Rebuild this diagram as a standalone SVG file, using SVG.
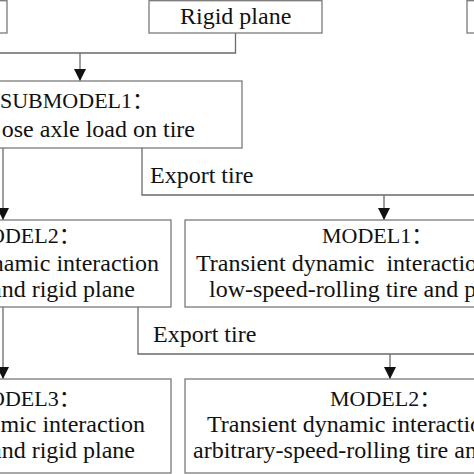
<svg xmlns="http://www.w3.org/2000/svg" width="474" height="474" viewBox="0 0 474 474">
<style>
.box{fill:#fff;stroke:#7a7a7a;stroke-width:1.3}
.ln{fill:none;stroke:#6a6a6a;stroke-width:1.3}
text{font-family:'Liberation Serif','Noto Sans CJK SC',serif;fill:#111;font-size:24px;white-space:pre}
.h{font-size:22px}
.e{text-anchor:end}
</style>
<defs>
<marker id="arr" markerUnits="userSpaceOnUse" markerWidth="12" markerHeight="12" viewBox="0 0 12 12" refX="12" refY="6" orient="auto">
<path d="M0,0 L12,6 L0,12 z" fill="#111"/>
</marker>
</defs>
<rect width="474" height="474" fill="#fff"/>
<g id="connectors">
<path class="ln" d="M235.5,33 V53 H-5"/>
<path class="ln" d="M80,53 V81" marker-end="url(#arr)"/>
<path class="ln" d="M3,148 V220" marker-end="url(#arr)"/>
<path class="ln" d="M142,148 V195 H480"/>
<path class="ln" d="M384,195 V220" marker-end="url(#arr)"/>
<path class="ln" d="M3,307 V379" marker-end="url(#arr)"/>
<path class="ln" d="M138,307 V354 H480"/>
<path class="ln" d="M390,354 V379" marker-end="url(#arr)"/>
</g>
<g id="node-topleft"><rect class="box" x="-50" y="0.7" width="57" height="32.3"/></g>
<g id="node-rigid">
<rect class="box" x="149" y="0.7" width="173" height="32.3"/>
<text x="180" y="24">Rigid plane</text>
</g>
<g id="node-topright"><rect class="box" x="467" y="0.7" width="60" height="32.3"/></g>
<g id="node-submodel1">
<rect class="box" x="-90" y="81" width="332" height="67"/>
<text class="h" x="0" y="108">SUBMODEL1：</text>
<text class="e" x="195" y="137">ose axle load on tire</text>
</g>
<g id="label-export1"><text x="150" y="183">Export tire</text></g>
<g id="node-left-model2">
<rect class="box" x="-90" y="220" width="261" height="87"/>
<text class="h" x="-11" y="243">ODEL2：</text>
<text class="e" x="159" y="271">namic interaction</text>
<text class="e" x="135" y="297">and rigid plane</text>
</g>
<g id="node-model1">
<rect class="box" x="185" y="220" width="320" height="87"/>
<text class="h" x="322" y="243">MODEL1：</text>
<text x="196" y="271">Transient dynamic  interactio</text>
<text x="209" y="297">low-speed-rolling tire and p</text>
</g>
<g id="label-export2"><text x="153" y="342">Export tire</text></g>
<g id="node-model3">
<rect class="box" x="-90" y="379" width="261" height="94"/>
<text class="h" x="-11" y="406">ODEL3：</text>
<text class="e" x="145" y="432">mic interaction</text>
<text class="e" x="135" y="458">and rigid plane</text>
</g>
<g id="node-model2">
<rect class="box" x="185" y="379" width="320" height="94"/>
<text class="h" x="330" y="406">MODEL2：</text>
<text x="207" y="432">Transient dynamic interactio</text>
<text x="193" y="458">arbitrary-speed-rolling tire an</text>
</g>
</svg>
